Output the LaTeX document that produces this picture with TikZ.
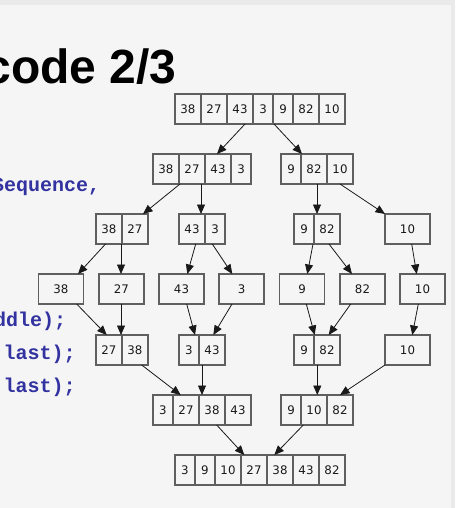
\documentclass[tikz,border=0pt]{standalone}
\usepackage{fontspec}
\setmainfont{DejaVu Sans}
\newfontfamily\titlefont{Liberation Sans}
\newfontfamily\codefont{Liberation Mono}
\usetikzlibrary{arrows.meta}
\definecolor{bg}{RGB}{245,245,245}
\definecolor{band}{RGB}{234,234,234}
\definecolor{boxline}{RGB}{95,95,95}
\definecolor{codeblue}{RGB}{50,50,160}
\tikzset{
  cellbox/.style={draw=boxline, line width=1.1pt, minimum height=30pt, inner sep=0pt, outer sep=0pt,
    font=\fontsize{11.8}{12}\selectfont, text=black!90},
  arr/.style={draw=black!90, line width=0.8pt, -{Triangle[length=9.5pt,width=8pt]}},
  codetext/.style={anchor=base west, inner sep=0pt, text=codeblue,
    font=\codefont\bfseries\fontsize{20}{24}\selectfont},
  titletext/.style={anchor=base west, inner sep=0pt, text=black,
    font=\titlefont\bfseries\fontsize{48}{52}\selectfont},
}
\newcommand\cellrow[4]{%
  \foreach \v [count=\i] in {#4} {
    \pgfmathtruncatemacro\j{\i-1}
    \pgfmathtruncatemacro\w{\v>9?26:20}
    \ifnum\i=1
      \node[cellbox, minimum width=\w pt, anchor=north west] (#1-\i) at (#2,#3) {\v};
    \else
      \node[cellbox, minimum width=\w pt, anchor=north west] (#1-\i) at (#1-\j.north east) {\v};
    \fi
  }%
}
\begin{document}
\begin{tikzpicture}[x=1pt,y=-1pt]
\useasboundingbox (0,0) rectangle (455,508);
\fill[band] (0,0) rectangle (455,508);
\fill[bg] (0,5) rectangle (451,508);

% title and code fragments (cut at the left edge, as in the reference)
\node[titletext] (title) at (-15.7,83.3) {code 2/3};
\node[codetext] (c1) at (-8,191) {Sequence,};
\node[codetext] (c2) at (-6,326) {ddle);};
\node[codetext] (c3) at (3.5,359) {last);};
\node[codetext] (c4) at (3.5,392) {last);};

% arrays
\cellrow{A1}{175}{94}{38,27,43,3,9,82,10}
\cellrow{B1}{153}{154}{38,27,43,3}
\cellrow{B2}{281}{154}{9,82,10}
\cellrow{C1}{96}{214}{38,27}
\cellrow{C2}{179}{214}{43,3}
\cellrow{C3}{294}{214}{9,82}
\node[cellbox, minimum width=45pt, anchor=north west] (C4) at (385,214) {10};
\node[cellbox, minimum width=45pt, anchor=north west] (D1) at (38.5,274) {38};
\node[cellbox, minimum width=45pt, anchor=north west] (D2) at (99,274) {27};
\node[cellbox, minimum width=45pt, anchor=north west] (D3) at (159,274) {43};
\node[cellbox, minimum width=45pt, anchor=north west] (D4) at (219,274) {3};
\node[cellbox, minimum width=45pt, anchor=north west] (D5) at (279.5,274) {9};
\node[cellbox, minimum width=45pt, anchor=north west] (D6) at (340,274) {82};
\node[cellbox, minimum width=45pt, anchor=north west] (D7) at (400,274) {10};
\cellrow{E1}{96}{335}{27,38}
\cellrow{E2}{179}{335}{3,43}
\cellrow{E3}{294}{335}{9,82}
\node[cellbox, minimum width=45pt, anchor=north west] (E4) at (385,335) {10};
\cellrow{F1}{153}{395}{3,27,38,43}
\cellrow{F2}{281}{395}{9,10,82}
\cellrow{G}{175}{455}{3,9,10,27,38,43,82}

% arrows
\draw[arr] ([xshift=70pt]A1-1.south west) -- ([xshift=64pt]B1-1.north west);
\draw[arr] ([xshift=99pt]A1-1.south west) -- ([xshift=21pt]B2-1.north west);
\draw[arr] ([xshift=27pt]B1-1.south west) -- ([xshift=47pt]C1-1.north west);
\draw[arr] ([xshift=48pt]B1-1.south west) -- ([xshift=22pt]C2-1.north west);
\draw[arr] ([xshift=36pt]B2-1.south west) -- ([xshift=23pt]C3-1.north west);
\draw[arr] ([xshift=59pt]B2-1.south west) -- (C4.north west);
\draw[arr] ([xshift=9.5pt]C1-1.south west) -- ([xshift=39.5pt]D1.north west);
\draw[arr] ([xshift=25pt]C1-1.south west) -- ([xshift=22pt]D2.north west);
\draw[arr] ([xshift=16.7pt]C2-1.south west) -- ([xshift=28.3pt]D3.north west);
\draw[arr] ([xshift=33.3pt]C2-1.south west) -- ([xshift=13.3pt]D4.north west);
\draw[arr] ([xshift=19pt]C3-1.south west) -- ([xshift=27.8pt]D5.north west);
\draw[arr] ([xshift=35pt]C3-1.south west) -- ([xshift=12pt]D6.north west);
\draw[arr] ([xshift=26.7pt]C4.south west) -- ([xshift=16.7pt]D7.north west);
\draw[arr] ([xshift=38.2pt]D1.south west) -- ([xshift=10.7pt]E1-1.north west);
\draw[arr] ([xshift=22pt]D2.south west) -- ([xshift=25pt]E1-1.north west);
\draw[arr] ([xshift=27.7pt]D3.south west) -- ([xshift=16pt]E2-1.north west);
\draw[arr] ([xshift=13pt]D4.south west) -- ([xshift=34.3pt]E2-1.north west);
\draw[arr] ([xshift=26.8pt]D5.south west) -- ([xshift=20.7pt]E3-1.north west);
\draw[arr] ([xshift=10.7pt]D6.south west) -- ([xshift=34.7pt]E3-1.north west);
\draw[arr] ([xshift=18.3pt]D7.south west) -- ([xshift=27.3pt]E4.north west);
\draw[arr] ([xshift=45.7pt]E1-1.south west) -- ([xshift=27.7pt]F1-1.north west);
\draw[arr] ([xshift=23pt]E2-1.south west) -- ([xshift=49pt]F1-1.north west);
\draw[arr] ([xshift=23.3pt]E3-1.south west) -- ([xshift=36.3pt]F2-1.north west);
\draw[arr] (E4.south west) -- ([xshift=59pt]F2-1.north west);
\draw[arr] ([xshift=63.7pt]F1-1.south west) -- ([xshift=69.3pt]G-1.north west);
\draw[arr] ([xshift=22.3pt]F2-1.south west) -- ([xshift=99.3pt]G-1.north west);
\end{tikzpicture}
\end{document}
